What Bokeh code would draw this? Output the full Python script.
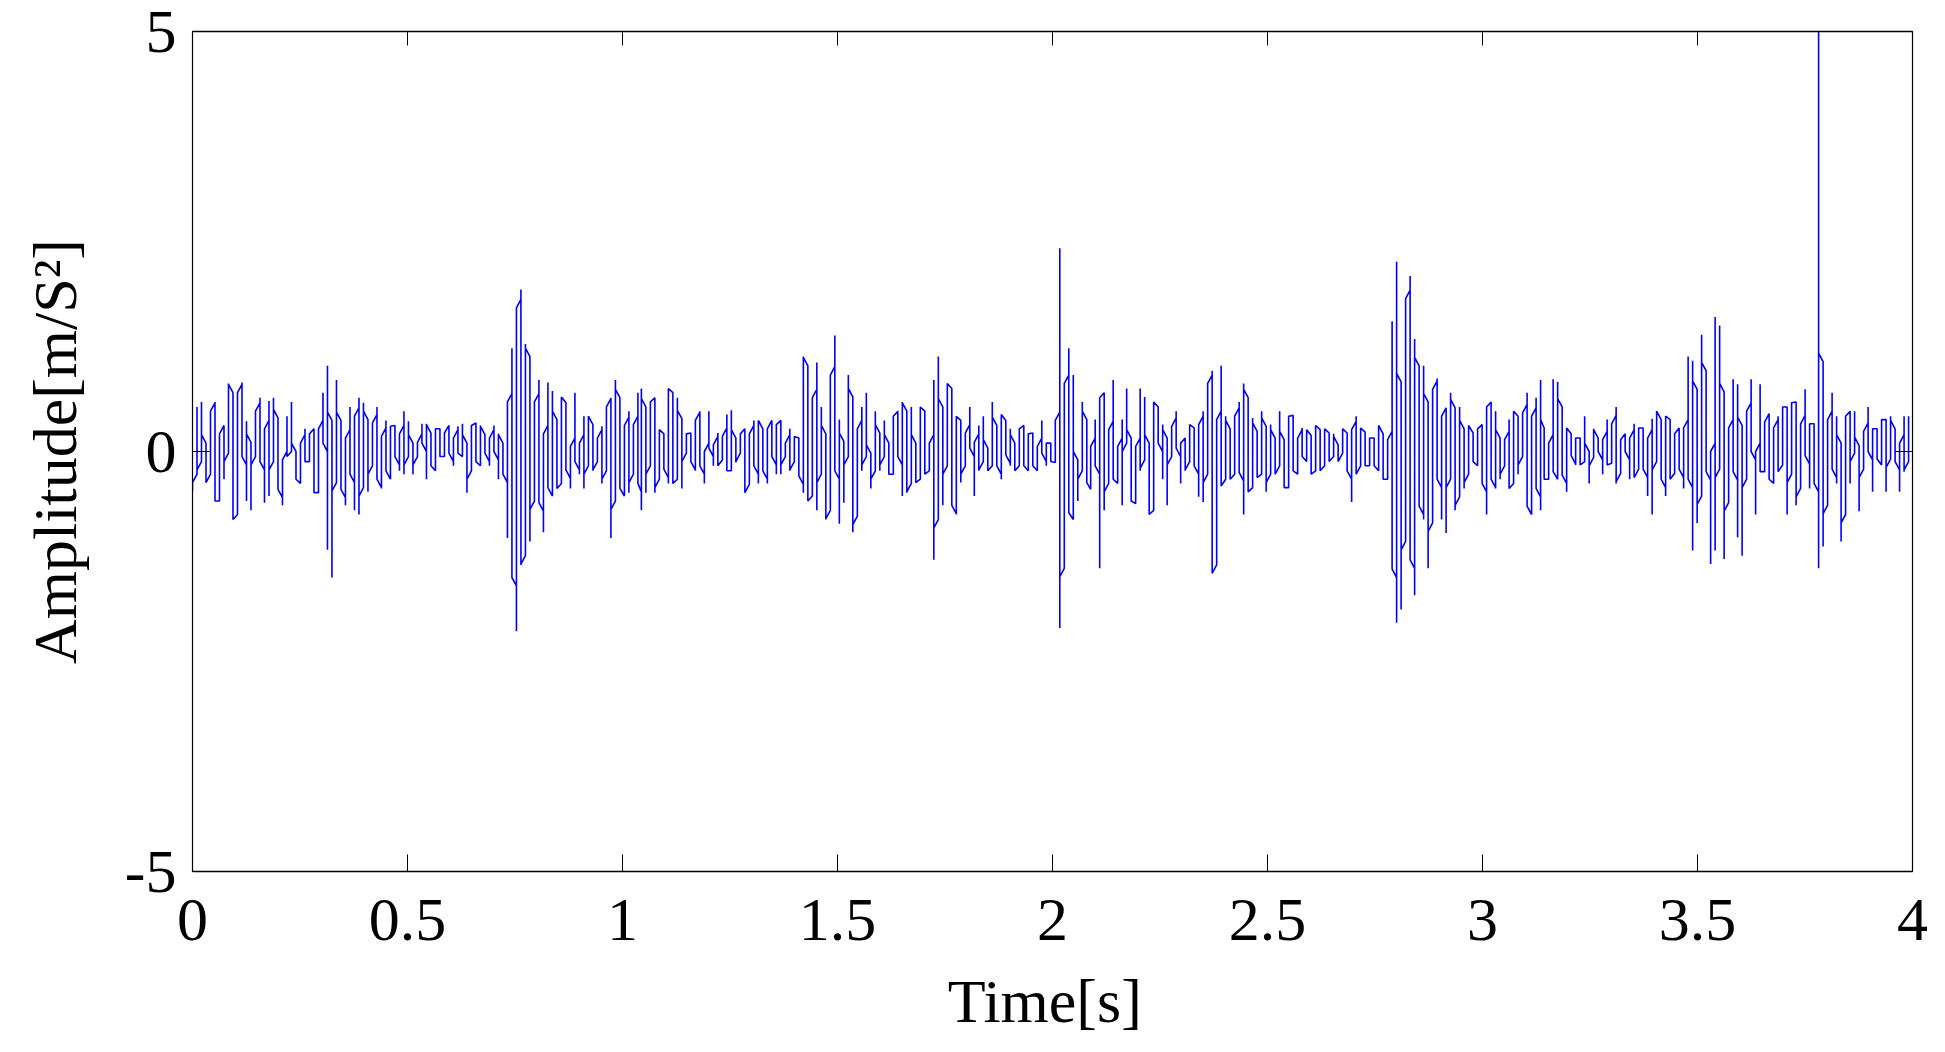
from bokeh.plotting import figure
from bokeh.models import LinearAxis, FixedTicker, Range1d
from bokeh.embed import file_html
from bokeh.resources import INLINE

# Amplitude: upper and lower end of each vertical stroke of the trace
upper_a = [-.37,.53,.59,.10,.48,.59,.21,.31,.81,.70,.70,.82,.36,.11,.48,.64,.27,.60,.64,.40,
           -.10,.42,.59,.00,.10,.27,.21,.27,.27,.70,1.02,.37,.85,.37,.16,.53,.42,.64,.58,.38,
           .34,.53,.18,.37,.30,.31,.21,.48,.36,.10,.11,.33,.33,.22,.27,.27,.22,.31,.16,.30,
           .33,.10,.31,.34,.31,.20,.16,.31,.21,.10,.59,1.23,1.71,1.93,1.28,1.13,.59,.85,.21,.82,
           .72,.38,.65,.58,.06,.70,.10,.42,.42,.32,.16,.30,.53,.64,.85,.64,.31,.48,.32,.70]
lower_a = [-.47,-.27,-.12,-.37,-.27,-.59,-.59,-.33,-.02,-.81,-.75,-.06,-.59,-.70,-.06,-.12,-.61,-.53,-.12,-.45,
           -.64,-.06,.00,-.33,-.38,-.12,-.12,-.49,-.49,.10,-1.17,-1.50,-.37,-.45,-.64,-.27,-.70,-.75,-.43,-.48,
           -.17,-.33,-.44,-.23,-.33,-.06,-.23,-.27,-.06,-.27,-.06,.10,-.33,-.17,-.23,-.06,-.06,-.02,-.17,-.02,
           -.06,-.49,-.23,-.12,-.17,-.02,-.17,.00,-.33,-.27,-1.03,-1.50,-2.14,-1.35,-1.24,-1.07,-.59,-.61,-.96,-.43,
           -.53,-.44,-.38,-.22,-.44,-.12,-.27,-.44,-.17,-.23,-.12,-.38,-.23,-1.03,-.59,-.44,-.53,-.49,-.27,-.38]
upper_b = [.75,.53,.59,.64,.26,.21,.75,.70,.64,.39,.21,.22,.37,.48,.00,.48,.08,.22,.18,.44,
           .49,.16,.21,.27,.21,.37,.37,.27,.27,.37,.32,.37,.10,.27,.18,.16,1.13,1.02,.64,1.06,
           .53,.21,.91,1.38,.38,.12,.91,.65,.27,.53,.70,-.02,.48,.22,.37,.10,.42,.48,.59,.48,
           .53,.10,.53,.48,.10,.85,1.13,.53,.81,.75,.42,.37,.22,.53,.11,.31,.42,.04,.59,.31,
           .44,.37,.27,.10,.27,.31,.21,.22,.06,.37,.10,.10,.37,2.42,.81,1.23,.91,-.10,.59,.38]
lower_b = [-.70,-.49,-.17,-.49,-.33,-.21,-.38,-.38,-.33,-.44,-.02,-.12,-.23,-.17,-.38,.04,-.17,-.17,-.10,-.23,
           -.23,-.13,-.02,-.49,-.39,-.17,-.38,-.23,-.38,-.06,-.27,-.27,-.06,-.23,-.12,-.29,-.49,-.59,-.53,-.70,
           -.27,-.81,-.70,-.23,-.86,-.61,-.06,-.96,-.77,-.23,-.06,-.44,-.23,-.23,-.06,-.27,-.27,-.06,-.53,-.49,
           -.38,-.37,-.33,-.27,-.23,-1.29,-.81,-.64,-.17,-.64,-.75,-.37,-.17,.04,-.53,-.23,-.12,-.23,-.17,-.17,
           -.33,-.04,-.17,-.23,-.17,-.17,-.23,-.17,-.23,-.02,-.17,-.12,-.13,-2.10,-1.39,-.73,-.81,-.59,-.23,-.37]
upper_c = [.06,.38,.64,.70,.26,.85,.06,.38,.75,.16,.06,.75,.65,.10,.59,.53,.32,.16,.30,.48,
           .10,.16,.32,.28,.32,.48,.81,.96,.38,1.02,.42,.27,.42,.59,.81,.64,.40,.24,.48,.30,
           .32,.16,.48,.14,.42,.43,.16,.28,.26,.19,.31,.26,.27,.22,.21,.08,.27,.22,.26,.42,
           .28,.23,.16,.16,.31,.21,.14,1.55,2.26,.83,1.82,2.09,1.34,1.02,1.02,.59,.74,.87,.42,.52,
           .70,.52,.53,.27,.31,.22,.27,.32,.53,.59,.48,.16,.14,.38,.48,.42,.46,.70,.42,.64,.85]
lower_c = [-.45,-.17,-1.39,-.70,-.38,-.33,-.38,-.64,.10,-.59,-.62,-.23,-.10,-.75,-.70,.10,-.33,-.64,-.06,.04,
           -.38,-.23,-.12,-.17,-.54,-.60,-.27,-1.45,-1.35,-.41,-.33,-.33,-.27,-.25,-.75,-.48,-.43,-.31,-.27,-.48,
           -.27,-.27,-.17,-.43,-.43,-.23,-.27,-.06,-.12,-.27,-.23,-.23,-.17,-.12,-.06,-.12,-.02,-.23,-.60,-.27,
           -.17,-.17,-.17,-.17,-.23,-.33,-.33,-1.40,-2.04,-1.88,-1.07,-1.29,-1.71,-.65,-.81,-1.39,-.85,-.33,-.81,-.97,
           -.33,-.70,-.54,-.44,-.27,-.12,-.17,-.38,-.75,-.33,-.44,-.33,-.17,-.44,-.38,-.27,-.06,-.65,-.75,-.44,-.70]
upper_d = [.28,.10,.86,.83,.53,.28,.21,.16,.16,.42,0,.27,.16,.14,.38,.33,.53,.14,.21,.16,
           .33,.28,.28,.16,.39,.48,.38,.42,.38,.21,.28,.28,1.13,1.08,.74,1.39,.96,0,1.60,1.50,
           .71,.28,.86,.80,.31,.48,.86,0,.80,.35,.45,.28,.42,.53,.53,.58,.59,.33,.74,.33,
           .33,5.0,1.07,.38,.70,.42,.10,.42,.48,.48,.07,.24,.53,.27,.27,.38,.38,.42,.27,.10,
           .42,.42]
lower_d = [-.33,-.33,-.24,-.33,-.28,-.48,-.05,-.16,-.16,-.12,-.38,-.07,0,-.27,-.16,-.14,-.38,-.26,0,-.33,
           -.31,-.21,-.21,-.53,-.75,-.12,-.33,-.53,-.33,-.26,-.21,-.44,-.33,-1.18,-.85,-.53,-.24,-1.34,-1.18,-.21,
           -1.28,-.61,-.24,-1.02,-1.24,-.33,0,-.75,-.24,-.24,-.33,-.38,-.24,-.16,-.75,-.27,-.64,-.44,-.05,-.44,
           -.38,-1.39,-1.13,-.64,-.21,-.38,-1.07,-.75,-.38,-.02,-.71,-.21,0,-.48,-.09,-.16,-.48,-.09,-.12,-.48,
           -.24,-.12]
block_start_s = [0.0, 1.0439, 2.0888, 3.1434]
stroke_step_s = 0.010463

x_ticks = [0, 0.5, 1, 1.5, 2, 2.5, 3, 3.5, 4]
x_tick_labels = ["0", "0.5", "1", "1.5", "2", "2.5", "3", "3.5", "4"]
y_ticks = [-5, 0, 5]
y_tick_labels = ["-5", "0", "5"]

# Route the single trace through the strokes: each stroke spans its full read range,
# and the link to the next stroke leaves near the level the two strokes share.
LINK = 0.10
t_all, hi_all, lo_all = [], [], []
for start, up, lo in zip(block_start_s,
                         [upper_a, upper_b, upper_c, upper_d],
                         [lower_a, lower_b, lower_c, lower_d]):
    for i, (u, l) in enumerate(zip(up, lo)):
        t_all.append(start + i * stroke_step_s)
        hi_all.append(u)
        lo_all.append(l)

time_s, amplitude = [], []
n = len(t_all)
for k in range(n):
    t, u, l = t_all[k], hi_all[k], lo_all[k]
    rising = k % 2 == 0
    if rising:
        entry = l if k == 0 else max(l, lo_all[k - 1] - LINK)
        leave = u if k == n - 1 else min(u, hi_all[k + 1] + LINK)
        seq = [entry, l, u, leave]
    else:
        entry = min(u, hi_all[k - 1] + LINK)
        leave = l if k == n - 1 else max(l, lo_all[k + 1] - LINK)
        seq = [entry, u, l, leave]
    time_s += [t] * 4
    amplitude += seq

SERIF = "Liberation Serif"
p = figure(frame_width=1720, frame_height=840, width=1929, height=1036,
           x_range=Range1d(0, 4), y_range=Range1d(-5, 5),
           output_backend="svg", toolbar_location=None,
           min_border_left=192, min_border_top=31, min_border_right=25, min_border_bottom=10,
           x_axis_label="Time[s]\u00a0", y_axis_label="Amplitude[m/S\u00b2]")
p.grid.visible = False
p.outline_line_color = None
p.line(time_s, amplitude, line_color="#0000ff", line_width=1.6, line_join="bevel")

def style(ax, ticks, labels, lw):
    ax.ticker = FixedTicker(ticks=ticks)
    ax.major_label_overrides = {float(k) if k != int(k) else int(k): v for k, v in zip(ticks, labels)}
    ax.major_tick_in = 17
    ax.major_tick_out = 0
    ax.minor_tick_line_color = None
    ax.major_tick_line_color = "black"
    ax.major_tick_line_width = 1
    ax.axis_line_color = "black"
    ax.axis_line_width = lw
    ax.major_label_text_font = SERIF
    ax.major_label_text_font_size = "62px"
    ax.major_label_text_color = "black"
    ax.axis_label_text_font = SERIF
    ax.axis_label_text_font_size = "62px"
    ax.axis_label_text_font_style = "normal"
    ax.axis_label_text_color = "black"

style(p.xaxis[0], x_ticks, x_tick_labels, 1.6)
style(p.yaxis[0], y_ticks, y_tick_labels, 1.2)
p.xaxis[0].major_label_standoff = 28
p.xaxis[0].axis_label_standoff = 24
p.yaxis[0].major_label_standoff = 16
p.yaxis[0].axis_label_standoff = 33

top = LinearAxis()
style(top, x_ticks, [""] * len(x_ticks), 1.6)
top.major_tick_in = 14
right = LinearAxis()
style(right, y_ticks, [""] * len(y_ticks), 1.2)
p.add_layout(top, "above")
p.add_layout(right, "right")
top.major_label_text_font_size = "1px"
right.major_label_text_font_size = "1px"
top.major_label_standoff = 0
right.major_label_standoff = 0

open("out.html", "w").write(file_html(p, INLINE))
